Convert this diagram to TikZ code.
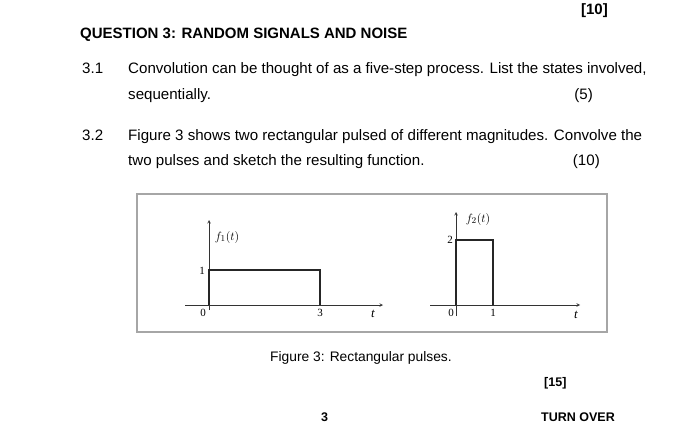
\documentclass[tikz,border=0pt]{standalone}
\usepackage{fontspec}
\setmainfont{Liberation Sans}
\newfontfamily\serifm{Liberation Serif}
\begin{document}
\begin{tikzpicture}[x=1pt,y=-1pt,
  txt/.style={anchor=base west,inner sep=0,font=\fontsize{15.1}{17}\selectfont},
  bt/.style={txt,font=\fontsize{15}{17}\selectfont\bfseries},
  lab/.style={inner sep=0,font=\serifm\itshape\fontsize{13}{15}\selectfont},
  num/.style={inner sep=0,font=\serifm\fontsize{11}{12}\selectfont},
  ax/.style={line width=0.6pt,->,>=stealth,gray!40!black},
  pulse/.style={line width=2pt,black!85}]
\fill[white] (0,0) rectangle (700,444);
\node[bt,anchor=base east] (m10) at (608,15) {[10]};
\node[bt] (q) at (80,39) {QUESTION 3: RANDOM SIGNALS AND NOISE};
\node[txt] (n31) at (82,74) {3.1};
\node[txt] (t31a) at (128,74) {Convolution can be thought of as a five-step process. List the states involved,};
\node[txt] (t31b) at (128,99) {sequentially.};
\node[txt,anchor=base east] (m5) at (593,99) {(5)};
\node[txt] (n32) at (82,140) {3.2};
\node[txt] (t32a) at (128,140) {Figure 3 shows two rectangular pulsed of different magnitudes. Convolve the};
\node[txt] (t32b) at (128,165) {two pulses and sketch the resulting function.};
\node[txt,anchor=base east] (m10b) at (600,165) {(10)};
\draw[line width=1.2pt,gray!70] (137,194) rectangle (607,332);
% left graph
\draw[ax] (185,305) -- (383,305);
\draw[ax] (209,310) -- (209,220);
\draw[pulse] (209,305) -- (209,270) -- (320,270) -- (320,305);
\node[lab] (f1) at (227,237) {$f_1(t)$};
\node[num] (l1) at (202,271) {1};
\node[num] (z1) at (203,313) {0};
\node[num] (th) at (320,313) {3};
\node[lab] (t1) at (373,314) {t};
% right graph
\draw[ax] (430,305) -- (580,305);
\draw[ax] (456,316) -- (456,212);
\draw[pulse] (456,305) -- (456,240) -- (493,240) -- (493,305);
\node[lab] (f2) at (478,219) {$f_2(t)$};
\node[num] (l2) at (450,240) {2};
\node[num] (z2) at (451,313) {0};
\node[num] (o2) at (493,313) {1};
\node[lab] (t2) at (576,315) {t};
\node[txt,font=\fontsize{13.8}{15}\selectfont] (cap) at (270,361) {Figure 3: Rectangular pulses.};
\node[bt,font=\fontsize{12.5}{14}\selectfont\bfseries] (m15) at (544,386) {[15]};
\node[bt,font=\fontsize{12.5}{14}\selectfont\bfseries] (pg) at (321,421) {3};
\node[bt,font=\fontsize{12.5}{14}\selectfont\bfseries] (to) at (541,421) {TURN OVER};
\end{tikzpicture}
\end{document}
